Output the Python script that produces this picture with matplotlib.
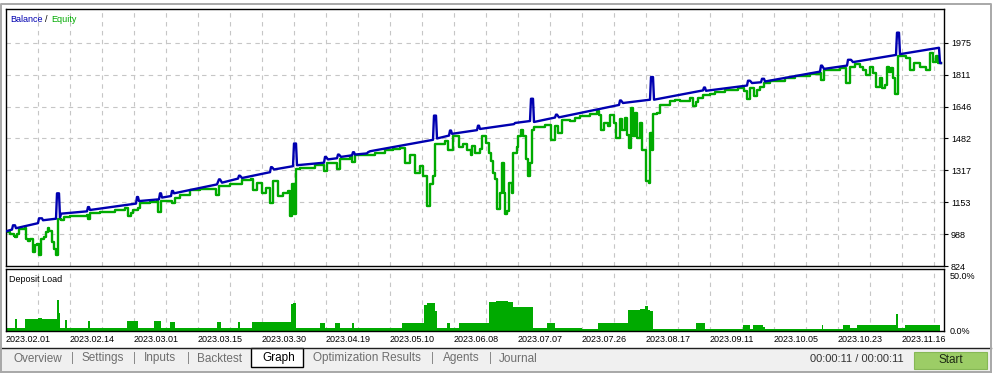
import numpy as np
import matplotlib
matplotlib.use("Agg")
from matplotlib import pyplot as plt
from matplotlib.patches import Rectangle

plt.rcParams['font.family'] = ['Liberation Sans', 'DejaVu Sans']

# deal number / value pairs
balance_deal = [6, 12, 13, 15, 16, 38, 39, 42, 43, 56, 57, 59, 60, 61, 87, 88, 89, 90, 136, 137,
                138, 139, 159, 160, 161, 162, 171, 172, 173, 174, 217, 219, 220, 222, 238, 239,
                240, 242, 270, 271, 272, 274, 293, 294, 296, 297, 324, 325, 326, 328, 337, 338,
                339, 341, 352, 353, 354, 355, 367, 368, 370, 433, 434, 436, 437, 449, 450, 451,
                452, 477, 478, 479, 480, 514, 515, 530, 531, 533, 534, 555, 556, 557, 559, 619,
                620, 621, 623, 650, 651, 653, 654, 703, 704, 705, 706, 747, 748, 750, 752, 761,
                762, 764, 765, 820, 821, 822, 824, 847, 848, 851, 853, 896, 897, 899, 900, 939,
                940, 941]
balance = [1003, 1012, 1034, 1034, 1019, 1045, 1070, 1070, 1060, 1068, 1199, 1199, 1075, 1094,
           1106, 1128, 1128, 1113, 1146, 1180, 1180, 1159, 1168, 1199, 1199, 1177, 1185, 1211,
           1211, 1199, 1245, 1271, 1271, 1254, 1275, 1290, 1290, 1278, 1308, 1334, 1334, 1322,
           1339, 1456, 1456, 1344, 1357, 1387, 1387, 1374, 1380, 1399, 1399, 1387, 1395, 1411,
           1411, 1399, 1405, 1411, 1416, 1475, 1600, 1600, 1482, 1497, 1523, 1523, 1506, 1525,
           1548, 1548, 1531, 1556, 1562, 1572, 1687, 1687, 1567, 1590, 1605, 1605, 1591, 1655,
           1678, 1678, 1665, 1682, 1799, 1799, 1682, 1730, 1745, 1745, 1728, 1755, 1780, 1780,
           1768, 1772, 1790, 1790, 1776, 1827, 1858, 1858, 1841, 1858, 1888, 1888, 1876, 1913,
           2028, 2028, 1917, 1950, 1871, 1871]

equity_deal = [6, 10, 14, 15, 17, 19, 25, 26, 28, 30, 33, 35, 37, 39, 41, 44, 46, 48, 49, 52,
               54, 56, 58, 61, 64, 70, 80, 87, 88, 90, 100, 115, 125, 128, 131, 133, 138, 140,
               150, 157, 158, 161, 170, 172, 175, 180, 190, 200, 213, 216, 219, 230, 240, 242,
               251, 253, 257, 262, 266, 270, 273, 278, 283, 288, 290, 292, 294, 296, 300, 315,
               324, 327, 337, 340, 350, 352, 355, 365, 375, 385, 393, 400, 405, 410, 415, 420,
               423, 427, 430, 433, 435, 445, 448, 453, 459, 463, 467, 471, 472, 475, 480, 482,
               486, 489, 491, 493, 495, 497, 500, 502, 504, 505, 507, 509, 512, 513, 517, 518,
               521, 523, 526, 528, 530, 532, 534, 545, 551, 555, 558, 562, 570, 575, 580, 590,
               597, 599, 601, 604, 608, 610, 614, 616, 620, 622, 625, 627, 629, 631, 633, 635,
               637, 640, 642, 646, 649, 650, 652, 653, 657, 660, 670, 675, 680, 690, 693, 696,
               698, 703, 710, 715, 725, 738, 744, 747, 750, 754, 757, 760, 764, 770, 785, 795,
               810, 820, 821, 824, 840, 846, 850, 855, 860, 863, 866, 870, 873, 876, 880, 882,
               885, 887, 889, 891, 893, 895, 898, 906, 910, 914, 920, 926, 930, 933, 936, 938,
               941]
equity = [997, 988, 978, 973, 988, 1014, 1018, 962, 954, 962, 896, 930, 940, 880, 962, 975,
          1000, 1018, 1005, 950, 911, 880, 1065, 1060, 1077, 1080, 1084, 1086, 1069, 1100, 1105,
          1115, 1125, 1080, 1095, 1115, 1125, 1151, 1155, 1159, 1103, 1159, 1160, 1151, 1177,
          1190, 1215, 1219, 1220, 1189, 1236, 1245, 1249, 1266, 1271, 1216, 1250, 1202, 1228,
          1151, 1261, 1185, 1202, 1210, 1082, 1245, 1091, 1327, 1331, 1345, 1314, 1357, 1322,
          1374, 1391, 1360, 1395, 1399, 1408, 1420, 1430, 1434, 1357, 1399, 1305, 1339, 1288,
          1134, 1245, 1290, 1456, 1470, 1425, 1493, 1440, 1451, 1425, 1399, 1442, 1408, 1430,
          1493, 1460, 1408, 1365, 1305, 1271, 1117, 1200, 1357, 1202, 1091, 1108, 1254, 1202,
          1408, 1440, 1493, 1528, 1493, 1374, 1288, 1357, 1528, 1542, 1550, 1476, 1545, 1511,
          1579, 1570, 1588, 1596, 1610, 1622, 1605, 1528, 1560, 1545, 1605, 1560, 1485, 1580,
          1528, 1588, 1502, 1434, 1639, 1493, 1614, 1485, 1562, 1425, 1262, 1254, 1511, 1425,
          1610, 1614, 1656, 1673, 1682, 1673, 1691, 1651, 1670, 1691, 1708, 1713, 1720, 1730,
          1742, 1725, 1686, 1742, 1699, 1733, 1750, 1768, 1776, 1795, 1802, 1815, 1819, 1785,
          1836, 1845, 1768, 1853, 1867, 1853, 1836, 1811, 1853, 1819, 1750, 1794, 1742, 1759,
          1853, 1827, 1845, 1794, 1713, 1905, 1896, 1836, 1871, 1853, 1836, 1922, 1879, 1910,
          1871, 1871]

load_deal = [6, 15, 17, 25, 38, 42, 57, 59, 60, 65, 67, 88, 90, 127, 138, 154, 161, 170, 175,
             217, 221, 238, 240, 252, 270, 291, 293, 296, 320, 325, 335, 340, 352, 354, 377,
             402, 424, 427, 435, 437, 447, 450, 459, 489, 496, 503, 508, 513, 533, 547, 555,
             582, 598, 628, 640, 645, 648, 650, 653, 696, 705, 743, 750, 753, 763, 765, 822,
             823, 843, 850, 857, 896, 898, 905, 940]
load = [2.5, 10.5, 2.5, 11, 12, 10.5, 28, 16, 2.5, 10, 3, 9, 3, 9, 2.5, 9, 2.5, 8, 2.5, 8, 2.5,
        8, 2.5, 8, 8.5, 24, 25.5, 2.5, 7.5, 2.5, 7.5, 2.5, 7.5, 2.5, 3, 7.5, 23.5, 25, 18, 2.5,
        7.5, 2.5, 7.5, 26, 27, 27.5, 26, 22, 2.5, 7.5, 2.5, 2, 7, 19, 20, 23, 19, 18.5, 2, 7, 2,
        5.5, 2, 5.5, 3.5, 2, 5.5, 2, 5.5, 2.5, 5.5, 15, 2.5, 5.5, 0]

value_ticks = [824, 988, 1153, 1317, 1482, 1646, 1811, 1975]
grid_deals = list(range(38, 944, 32))
date_deals = [6, 70, 134, 198, 262, 326, 390, 454, 518, 582, 646, 710, 774, 838, 902]
date_labels = ['2023.02.01', '2023.02.14', '2023.03.01', '2023.03.15', '2023.03.30',
               '2023.04.19', '2023.05.10', '2023.06.08', '2023.07.07', '2023.07.26',
               '2023.08.17', '2023.09.11', '2023.10.05', '2023.10.23', '2023.11.16']

W, H = 994, 374
fig = plt.figure(figsize=(W / 100, H / 100), dpi=100)
fig.patch.set_facecolor('white')

# window chrome in pixel coordinates
ov = fig.add_axes([0, 0, 1, 1], zorder=0)
ov.set_xlim(0, W)
ov.set_ylim(H, 0)
ov.axis('off')
ov.add_patch(Rectangle((0, 348), 991, 24, facecolor='#f0f0f0', edgecolor='none'))
ov.plot([0, 991], [348, 348], color='#202020', lw=1)
ov.plot([0.7, 0.7, 991, 991], [372, 3.5, 3.5, 372], color='#a8a8a8', lw=1.4)
ov.plot([0, 991], [372, 372], color='#a8a8a8', lw=1.4)
ov.add_patch(Rectangle((251, 348), 52, 19, facecolor='white', edgecolor='black', lw=1))

tab_font = dict(fontsize=8.5, va='center', ha='left', color='#6e6e6e')
for x, t in [(13, 'Overview'), (82, 'Settings'), (144, 'Inputs'), (197, 'Backtest'),
             (313, 'Optimization Results'), (443, 'Agents'), (499, 'Journal')]:
    ov.text(x, 358.5, t, **tab_font)
for x in [73, 135, 188, 433, 490]:
    ov.text(x, 358.5, '|', fontsize=8.5, va='center', ha='center', color='#8a8a8a')
ov.text(262, 358, 'Graph', fontsize=8.5, va='center', ha='left', color='black')
ov.text(857, 359.5, '00:00:11 / 00:00:11', fontsize=8, va='center', ha='center', color='#333333')
ov.add_patch(Rectangle((914, 352), 73, 16.5, facecolor='#9ccd66', edgecolor='#86b855', lw=0.8))
ov.text(950.5, 360, 'Start', fontsize=8.5, va='center', ha='center', color='#1e2a14')

grid_style = dict(color='#c6c6c6', lw=0.8, ls=(0, (4, 4)))

# balance / equity panel
ax = fig.add_axes([6 / W, 1 - 266 / H, 938 / W, 257 / H], zorder=2)
for gx in grid_deals:
    ax.axvline(gx, **grid_style, zorder=0)
for gy in value_ticks[1:]:
    ax.axhline(gy, **grid_style, zorder=0)
ax.plot(equity_deal, equity, drawstyle='steps-post', color='#00aa00', lw=1.7, zorder=2)
ax.plot(balance_deal, balance, color='#0000b0', lw=1.7, zorder=3)
ax.set_xlim(6, 944)
ax.set_ylim(824, 2150)
ax.set_xticks([])
ax.set_yticks(value_ticks)
ax.set_yticklabels([str(v) for v in value_ticks])
ax.yaxis.tick_right()
ax.tick_params(axis='y', direction='out', length=3, width=0.8, labelsize=6.5, pad=2, colors='black')
for s in ax.spines.values():
    s.set_linewidth(1)
    s.set_color('black')
t1 = ax.text(0.004, 0.975, 'Balance', transform=ax.transAxes, fontsize=6.5, color='#0000b0', va='top')
t2 = ax.annotate('/', xy=(1, 0), xycoords=t1, xytext=(2.2, 0), textcoords='offset points',
                 fontsize=6.5, color='black', va='bottom')
ax.annotate('Equity', xy=(1, 0), xycoords=t2, xytext=(2.2, 0), textcoords='offset points',
            fontsize=6.5, color='#00aa00', va='bottom')

# deposit load panel
ax2 = fig.add_axes([6 / W, 1 - 331 / H, 938 / W, 62 / H], zorder=2)
for gx in grid_deals:
    ax2.axvline(gx, **grid_style, zorder=0)
ax2.fill_between(load_deal, 0, load, step='post', color='#00aa00', lw=0, zorder=2)
ax2.set_xlim(6, 944)
ax2.set_ylim(0, 56)
ax2.set_yticks([0, 50])
ax2.set_yticklabels(['0.0%', '50.0%'])
ax2.yaxis.tick_right()
ax2.tick_params(axis='y', length=0, labelsize=6.5, pad=4)
ax2.set_xticks(date_deals)
ax2.set_xticklabels(date_labels, ha='left')
ax2.tick_params(axis='x', length=0, labelsize=6.5, pad=3)
for s in ax2.spines.values():
    s.set_linewidth(1)
    s.set_color('black')
ax2.text(0.003, 0.9, 'Deposit Load', transform=ax2.transAxes, fontsize=6.5, va='top')

fig.savefig('out.png', dpi=100)
